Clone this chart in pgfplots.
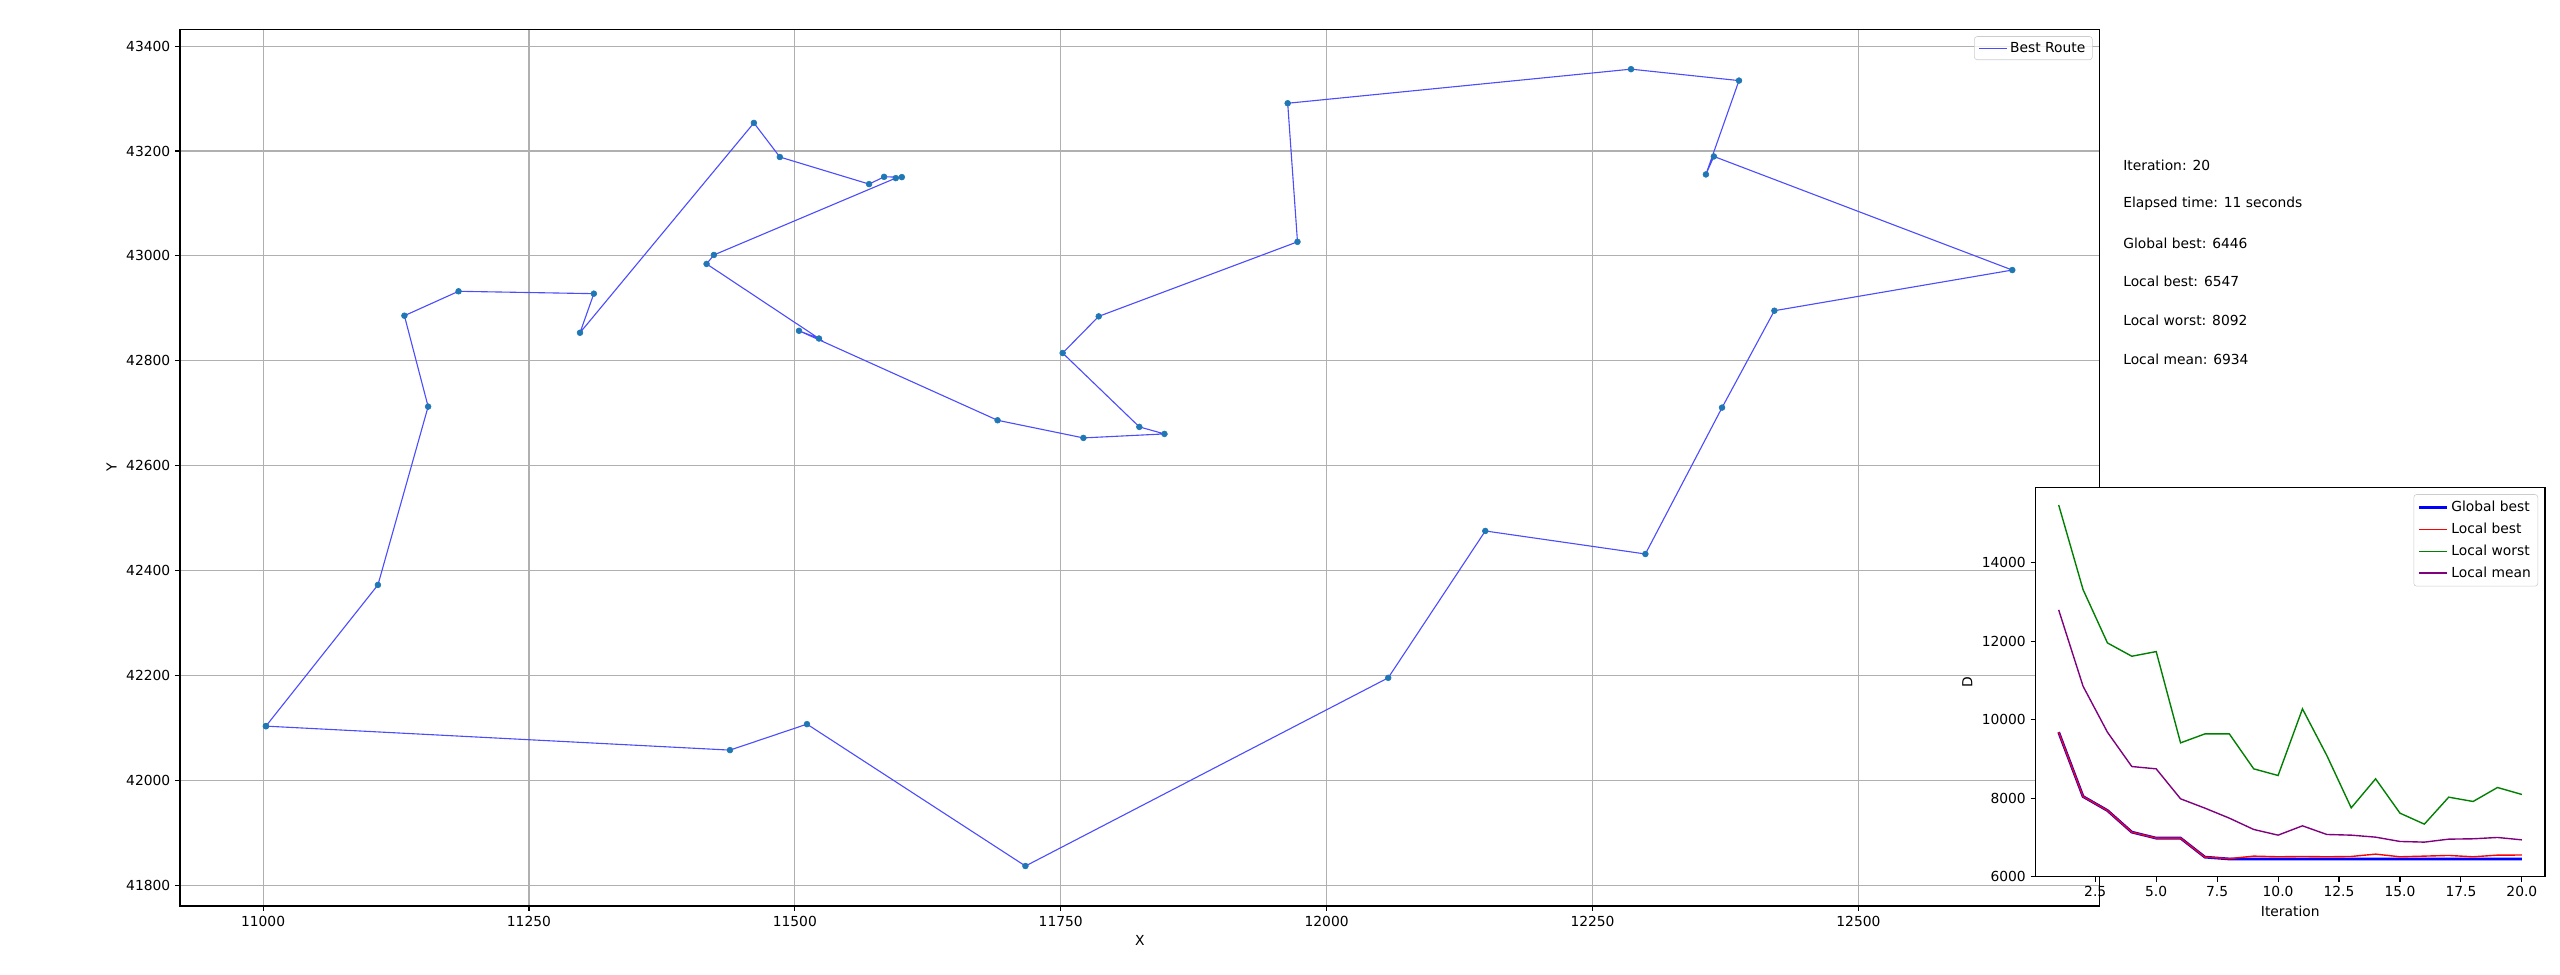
\documentclass[border=0pt]{standalone}
\usepackage{fontspec}
\setmainfont{DejaVu Sans}
\usepackage{pgfplots}
\usepackage{pgfplotstable}
\pgfplotsset{compat=1.18}

\definecolor{tabblue}{RGB}{31,119,180}
\definecolor{mplgreen}{RGB}{0,128,0}
\definecolor{mplpurple}{RGB}{128,0,128}
\definecolor{gridgray}{RGB}{176,176,176}
\definecolor{legendgray}{RGB}{204,204,204}

% best route (closed tour, first point repeated at the end)
\pgfplotstableread{
x y
11002.7 42103.5
11108.0 42372.7
11155.2 42712.7
11132.9 42886.0
11183.8 42932.5
11311.0 42928.0
11298.0 42853.5
11461.5 43253.5
11485.9 43188.5
11569.8 43136.9
11583.9 43150.7
11600.6 43150.2
11594.9 43148.3
11423.9 43001.8
11417.0 42984.7
11522.7 42842.5
11503.9 42857.2
11690.6 42686.6
11771.3 42653.0
11847.5 42660.6
11823.9 42674.0
11751.8 42814.8
11785.7 42884.7
11972.6 43026.8
11963.4 43291.0
12286.2 43356.0
12387.7 43334.2
12356.6 43155.3
12364.1 43189.6
12644.7 42973.0
12421.0 42895.5
12371.8 42710.8
12299.7 42431.7
12149.2 42475.6
12057.9 42195.6
11716.8 41836.8
11511.4 42107.3
11439.0 42057.8
11002.7 42103.5
}\route

% convergence history
\pgfplotstableread{
it gbest lbest lworst lmean
1  9681 9681 15479 12801
2  8040 8040 13320 10854
3  7683 7683 11959 9681
4  7131 7131 11619 8805
5  6978 6978 11738 8746
6  6978 6978 9409  7981
7  6493 6493 9638  7743
8  6446 6455 9638  7488
9  6446 6519 8746  7199
10 6446 6502 8576  7054
11 6446 6510 10276 7292
12 6446 6502 9086  7071
13 6446 6510 7751  7054
14 6446 6570 8491  7003
15 6446 6502 7615  6893
16 6446 6519 7335  6876
17 6446 6536 8023  6952
18 6446 6502 7913  6961
19 6446 6544 8270  6995
20 6446 6547 8092  6934
}\history

\pgfplotsset{
  mpl/.style={
    scale only axis,
    anchor=south west,
    axis line style={black,line width=0.8bp},
    tick align=outside,
    tick pos=left,
    major tick length=3.5bp,
    every tick/.style={black,line width=0.8bp},
    tick label style={font=\normalsize},
    label style={font=\normalsize},
    scaled ticks=false,
    legend cell align=left,
    legend image code/.code={\draw[##1] (0bp,0bp) -- (20bp,0bp);},
    legend style={draw=legendgray,rounded corners=2bp,fill=white,
      fill opacity=0.8,text opacity=1,at={(1,1)},anchor=north east,
      xshift=-5bp,yshift=-5bp,font=\normalsize},
  }
}

\begin{document}
\begin{tikzpicture}
\path (0,0) rectangle (1843.2bp,701.28bp);

\begin{axis}[mpl,
  at={(129.6bp,48.96bp)},width=1382.04bp,height=631.22bp,
  xmin=10921.9,xmax=12726.7,ymin=41760.6,ymax=43432,
  xtick={11000,11250,11500,11750,12000,12250,12500},
  xticklabels={11000,11250,11500,11750,12000,12250,12500},
  ytick={41800,42000,42200,42400,42600,42800,43000,43200,43400},
  yticklabels={41800,42000,42200,42400,42600,42800,43000,43200,43400},
  grid=major,grid style={gridgray,line width=0.8bp},
  xlabel={X},ylabel={Y}]
\addplot[only marks,mark=*,mark size=2.1bp,tabblue,forget plot] table[x=x,y=y] {\route};
\addplot[blue!70,line width=0.8bp,mark=none] table[x=x,y=y] {\route};
\addlegendentry{Best Route}
\end{axis}

\begin{axis}[mpl,
  at={(1465.56bp,70.06bp)},width=366.84bp,height=280.37bp,
  axis background/.style={fill=white},
  legend style={row sep=2.6bp,inner sep=3bp},
  xmin=0.05,xmax=20.95,ymin=5994,ymax=15930,
  xtick={2.5,5,7.5,10,12.5,15,17.5,20},
  xticklabels={2.5,5.0,7.5,10.0,12.5,15.0,17.5,20.0},
  ytick={6000,8000,10000,12000,14000},
  yticklabels={6000,8000,10000,12000,14000},
  xlabel={Iteration},ylabel={D}]
\addplot[blue,line width=2bp,mark=none] table[x=it,y=gbest] {\history};
\addlegendentry{Global best}
\addplot[red,line width=1bp,mark=none] table[x=it,y=lbest] {\history};
\addlegendentry{Local best}
\addplot[mplgreen,line width=1bp,mark=none] table[x=it,y=lworst] {\history};
\addlegendentry{Local worst}
\addplot[mplpurple,line width=1bp,mark=none] table[x=it,y=lmean] {\history};
\addlegendentry{Local mean}
\end{axis}

\begin{scope}[every node/.style={anchor=west,inner sep=0pt,font=\normalsize}]
\node at (1528.56bp,582.48bp) {Iteration: 20};
\node at (1528.56bp,554.40bp) {Elapsed time: 11 seconds};
\node at (1528.56bp,526.10bp) {Global best: 6446};
\node at (1528.56bp,498.96bp) {Local best: 6547};
\node at (1528.56bp,470.88bp) {Local worst: 8092};
\node at (1528.56bp,442.80bp) {Local mean: 6934};
\end{scope}
\end{tikzpicture}
\end{document}
